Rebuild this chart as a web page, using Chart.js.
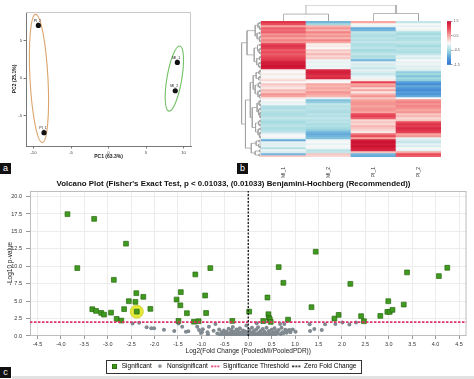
<!DOCTYPE html>
<html><head><meta charset="utf-8">
<script src="https://cdn.jsdelivr.net/npm/chart.js@4.4.1/dist/chart.umd.min.js"></script>
<style>
html,body{margin:0;padding:0;background:#fff;}
#root{position:relative;width:474px;height:379px;overflow:hidden;background:#fff;}
.box{position:absolute;}
.box canvas{display:block;}
.tag{position:absolute;background:#111;color:#fff;font:9px 'Liberation Sans',Arial,sans-serif;line-height:11px;text-align:center;width:11px;height:11px;}
#bottomline{position:absolute;left:12px;top:376px;width:462px;height:3px;background:#e2e2e2;}
</style></head><body>
<div id="root">
  <div class="box" style="left:0;top:0;width:237px;height:170px"><canvas id="pca"></canvas></div>
  <div class="box" style="left:237px;top:0;width:237px;height:178px"><canvas id="heat"></canvas></div>
  <div class="box" style="left:261px;top:0;width:180px;height:21px"><canvas id="colDendro"></canvas></div>
  <div class="box" style="left:241px;top:21px;width:20px;height:136px"><canvas id="rowDendro"></canvas></div>
  <div class="box" style="left:446px;top:18px;width:20px;height:50px"><canvas id="cbar"></canvas></div>
  <div class="box" style="left:0;top:170px;width:474px;height:215px"><canvas id="volc"></canvas></div>
  <div id="bottomline"></div>
  <div class="tag" style="left:0;top:163px">a</div>
  <div class="tag" style="left:237px;top:163px">b</div>
  <div class="tag" style="left:0;top:367px">c</div>
</div>
<script>
// ================= DATA =================
// Panel a: PCA scores
const pcaSamples = ['PI_2', 'PI_1', 'MI_1', 'MI_2'];
const pcaPC1 = [-9.35, -8.6, 9.18, 8.9];
const pcaPC2 = [7.05, -7.32, 2.1, -1.7];

// Panel b: heatmap (scaled abundance), rows top to bottom
const heatSamples = ['MI_1', 'MI_2', 'PI_1', 'PI_2'];
const heatMI1 = [1.2,1.0,0.5,0.9,0.8,0.9,0.6,0.7,0.5,0.7,
 0.6,1.1,1.2,1.1,0.9,1.0,0.9,1.0,1.1,1.2,
 1.4,1.4,1.5,1.4,0.05,0.0,0.1,0.0,0.05,0.2,
 0.0,0.3,0.2,0.1,0.4,0.3,0.6,0.5,0.1,0.0,
 -0.1,-0.05,-0.4,-0.45,-0.35,-0.4,-0.45,-0.4,-0.3,-0.4,
 -0.5,-0.4,-0.35,-0.45,-0.4,-0.3,-0.05,0.0,-0.1,-0.9,
 -0.1,-0.15,-0.1,-0.4,-0.05,-0.2,-0.8,0.3];
const heatMI2 = [-0.8,-0.5,0.4,0.6,0.4,0.7,0.5,0.6,0.4,0.7,
 0.5,0.05,0.1,0.0,0.3,0.2,0.4,0.2,0.3,-0.05,
 -0.1,-0.05,-0.1,-0.05,1.3,1.4,1.3,1.2,1.3,0.05,
 0.0,0.5,0.4,0.5,0.4,0.6,0.5,0.4,-0.1,-0.7,
 -0.6,-0.3,-0.4,-0.35,-0.4,-0.45,-0.35,-0.4,-0.3,-0.4,
 -0.35,-0.45,-0.4,-0.5,-0.6,-0.8,-0.9,-0.8,-0.7,-0.05,
 0.0,-0.1,0.0,-0.05,-0.35,-0.3,0.3,0.2];
const heatPI1 = [0.5,0.0,-0.1,-0.9,-0.8,-0.3,-0.4,-0.45,-0.35,-0.4,
 -0.3,-0.45,-0.4,-0.35,-0.5,-0.4,-0.3,-0.45,-0.4,-0.8,
 -0.1,-0.2,-0.15,-0.3,-0.1,-0.2,-0.3,-0.1,-0.05,0.1,
 1.1,0.5,0.6,0.2,0.5,0.1,0.4,0.6,0.3,0.5,
 0.6,0.6,0.5,0.6,0.6,0.5,1.0,1.1,0.9,0.2,
 0.3,0.2,0.4,0.3,0.2,0.1,0.8,1.0,0.5,1.4,
 1.5,1.4,1.5,1.4,1.3,0.3,-0.8,-0.9];
const heatPI2 = [-0.3,0.0,-0.1,0.0,-0.1,-0.4,-0.5,-0.35,-0.45,-0.4,
 -0.3,-0.4,-0.5,-0.35,-0.4,-0.45,-0.3,-0.1,-0.2,0.0,
 -0.1,-0.05,-0.15,-0.1,-0.2,-0.6,-0.5,-0.7,-0.5,-0.6,
 -1.0,-1.2,-0.9,-1.1,-1.2,-1.0,-1.1,-0.9,0.0,0.6,
 0.7,0.6,0.7,0.6,0.5,0.6,0.3,0.4,0.2,0.3,
 1.0,1.2,1.1,1.3,1.2,1.1,0.5,0.6,-0.1,-0.2,
 -0.3,-0.1,-0.2,0.0,-0.1,0.5,1.0,0.9];
const colorbarMin = -1.5, colorbarMax = 1.5;
// dendrograms: [height, left, right], leaves = index
const colTree = [1.0, [0.43, 0, 1], [0.47, 2, 3]];
const rowTree = [1.0,
  [0.72,
    [0.3,[0.15,[0.06,0,1],[0.08,2,[0.04,3,4]]],[0.2,[0.07,5,6],[0.1,[0.05,7,8],[0.06,9,10]]]],
    [0.35,[0.18,[0.06,11,12],[0.1,[0.04,13,14],[0.05,15,16]]],[0.22,[0.08,[0.04,17,18],19],[0.12,[0.05,20,21],[0.06,22,23]]]]
  ],
  [0.8,
    [0.55,
      [0.4,[0.25,[0.1,[0.05,24,25],26],[0.12,[0.06,27,28],29]],[0.3,[0.14,[0.05,30,31],[0.07,32,33]],[0.16,[0.06,34,35],[0.08,[0.04,36,37],38]]]],
      [0.45,[0.2,[0.1,[0.04,39,40],[0.05,41,42]],[0.12,[0.05,43,44],[0.06,[0.03,45,46],[0.04,47,48]]]],[0.28,[0.12,[0.05,49,50],[0.06,51,52]],[0.15,[0.06,53,54],[0.08,[0.04,55,56],[0.05,57,58]]]]]
    ],
    [0.5,[0.25,[0.1,59,60],[0.12,61,[0.05,62,63]]],[0.3,[0.08,64,65],[0.1,66,67]]]
  ]
];

// Panel c: volcano
const sigLog2FC = [-3.86,-3.29,-2.61,-3.65,-2.87,-2.39,-2.24,-2.55,-2.41,-2.38,-2.09,-2.65,-3.33,-3.25,-3.14,-3.08,-2.93,-2.81,-2.71,
  -1.53,-1.44,-1.45,-1.31,-1.49,-1.13,-0.81,-0.92,-0.90,-1.16,-1.06,-0.34,
  0.02,1.44,0.65,0.75,0.41,1.35,0.43,0.44,0.46,0.48,0.32,0.85,2.18,1.84,1.93,2.41,2.47,2.82,2.99,2.97,3.02,3.08,3.32,3.39,4.07,4.25];
const sigNegLog10P = [17.47,16.8,13.24,9.74,8.06,6.14,5.62,4.99,4.9,3.5,3.89,3.85,3.84,3.6,3.31,3.07,3.35,2.45,2.21,
  5.23,6.29,4.4,3.27,2.16,8.83,9.74,5.81,3.3,2.05,2.12,2.16,
  3.5,12.09,9.88,7.63,5.52,4.13,3.12,2.6,2.4,2.02,2.15,2.35,7.48,2.5,3.03,2.84,2.12,2.88,4.99,3.46,3.46,3.75,4.51,9.12,8.59,9.79];
const nsLog2FC = [-2.47,-2.33,-2.17,-2.07,-2.01,-1.80,-1.58,-1.49,-1.41,-1.33,-1.28,-1.09,-1.05,-0.99,-1.01,-0.97,-0.87,-0.84,-0.74,-0.70,-0.86,
  -0.66,-0.62,-0.6,-0.57,-0.55,-0.52,-0.5,-0.48,-0.46,-0.44,-0.42,-0.40,-0.38,-0.36,-0.34,-0.33,-0.31,-0.29,-0.27,-0.25,-0.23,-0.22,-0.20,-0.18,-0.16,-0.15,-0.13,-0.11,-0.10,-0.08,-0.06,-0.04,-0.03,-0.02,
  0.0,0.02,0.03,0.05,0.07,0.08,0.10,0.12,0.13,0.15,0.17,0.18,0.20,0.21,0.23,0.25,0.27,0.29,0.31,0.33,0.35,0.37,0.39,0.41,0.44,0.46,0.48,0.50,0.52,0.54,0.56,0.58,0.60,0.62,0.65,0.68,0.69,0.71,0.73,0.75,0.77,0.79,0.81,0.82,0.85,0.88,0.90,0.95,1.01,
  1.31,1.32,1.41,1.57,1.64,1.86,2.01,2.16,2.30];
const nsNegLog10P = [1.80,1.90,1.27,1.10,1.10,0.88,0.72,1.80,1.33,0.62,0.67,1.33,0.86,0.55,0.43,0.96,0.53,1.33,0.76,1.72,0.24,
  0.35,0.93,0.15,0.55,0.22,0.78,0.40,0.10,0.62,0.30,1.05,0.18,0.48,0.85,0.25,1.29,0.60,0.12,0.40,0.95,0.20,0.70,0.35,1.10,0.08,0.52,0.28,0.80,0.15,0.45,0.65,1.50,0.22,0.38,
  0.05,0.90,0.30,0.55,0.12,1.20,0.42,0.70,0.18,0.35,0.95,1.82,0.25,1.25,0.50,0.10,0.75,0.32,1.00,0.15,0.60,0.38,1.20,0.22,0.70,0.45,0.12,0.90,0.30,0.55,1.10,0.20,0.68,0.40,0.85,1.72,0.28,1.19,0.55,0.38,1.72,0.90,0.62,0.47,0.80,0.86,0.55,0.95,0.62,
  1.68,0.72,1.00,0.86,1.68,1.72,1.93,1.66,1.93];
const highlightedIndex = 9;          // index into the significant arrays
const pThreshold = 0.01033;
const legendNames = ['Significant', 'Nonsignificant', 'Significance Threshold', 'Zero Fold Change'];

// ================= SETUP =================
const FONT = "'Liberation Sans', Arial, Helvetica, sans-serif";
Chart.defaults.font.family = FONT;
Chart.defaults.animation = false;
Chart.defaults.responsive = true;
Chart.defaults.maintainAspectRatio = false;
Chart.defaults.plugins.legend.display = false;
Chart.defaults.plugins.tooltip.enabled = false;

// ---------- Panel a ----------
const ellipses = [
  {cx: -9.27, cy: -0.05, rx: 1.2, ry: 8.6, angle: -3, color: '#dba46e'},
  {cx: 8.78, cy: -0.07, rx: 0.99, ry: 4.42, angle: 9.6, color: '#74c266'}
];
const pcaDecor = {
  id: 'pcaDecor',
  beforeDatasetsDraw(chart) {
    const {ctx, chartArea: a, scales: {x, y}} = chart;
    ctx.save();
    ctx.strokeStyle = '#c8c8c8'; ctx.lineWidth = 1;
    ctx.beginPath(); ctx.moveTo(a.left, a.top + 0.5); ctx.lineTo(a.right - 0.5, a.top + 0.5); ctx.lineTo(a.right - 0.5, a.bottom); ctx.stroke();
    ellipses.forEach(e => {
      const cx = x.getPixelForValue(e.cx), cy = y.getPixelForValue(e.cy);
      const rx = Math.abs(x.getPixelForValue(e.cx + e.rx) - cx);
      const ry = Math.abs(y.getPixelForValue(e.cy + e.ry) - cy);
      ctx.strokeStyle = e.color; ctx.lineWidth = 1.1;
      ctx.beginPath(); ctx.ellipse(cx, cy, rx, ry, e.angle * Math.PI / 180, 0, Math.PI * 2); ctx.stroke();
    });
    ctx.restore();
  },
  afterDatasetsDraw(chart) {
    const {ctx} = chart;
    const meta = chart.getDatasetMeta(0);
    ctx.save();
    ctx.font = '3.6px ' + FONT; ctx.fillStyle = '#222'; ctx.textAlign = 'center'; ctx.textBaseline = 'bottom';
    meta.data.forEach((el, i) => ctx.fillText(pcaSamples[i], el.x - 1, el.y - 2.5));
    ctx.restore();
  }
};
new Chart(document.getElementById('pca'), {
  type: 'scatter',
  data: {datasets: [{data: pcaPC1.map((v, i) => ({x: v, y: pcaPC2[i]})), pointRadius: 2.6, backgroundColor: '#111', borderWidth: 0}]},
  options: {
    layout: {padding: {left: 0, top: 12, right: 46, bottom: 0}},
    scales: {
      x: {type: 'linear', min: -11, max: 11,
        ticks: {stepSize: 5, includeBounds: false, font: {size: 4.2}, color: '#444', padding: 1.5, maxRotation: 0},
        grid: {drawOnChartArea: false, tickLength: 2.5, color: '#777'}, border: {color: '#777'},
        title: {display: true, text: 'PC1 (63.3%)', font: {size: 5, weight: 'bold'}, color: '#222', padding: {top: 0, bottom: 10}},
        afterFit(s) { s.height = 24; }},
      y: {type: 'linear', min: -9.1, max: 8.85,
        ticks: {stepSize: 5, includeBounds: false, font: {size: 4.2}, color: '#444', padding: 1.5},
        grid: {drawOnChartArea: false, tickLength: 2.5, color: '#777'}, border: {color: '#777'},
        title: {display: true, text: 'PC2 (25.1%)', font: {size: 5, weight: 'bold'}, color: '#222', padding: {top: 12, bottom: 0}},
        afterFit(s) { s.width = 26; }}
    }
  },
  plugins: [pcaDecor]
});

// ---------- Panel b ----------
const CMAP = [[-1.5,[52,116,208]],[-1.0,[84,158,218]],[-0.5,[162,218,224]],[0,[248,248,248]],[0.5,[247,166,160]],[1.0,[234,76,92]],[1.5,[204,18,50]]];
function heatColor(v) {
  v = Math.max(-1.5, Math.min(1.5, v));
  for (let k = 0; k < CMAP.length - 1; k++) {
    const [a, ca] = CMAP[k], [b, cb] = CMAP[k + 1];
    if (v <= b) { const t = (v - a) / (b - a); return 'rgb(' + ca.map((c, j) => Math.round(c + (cb[j] - c) * t)).join(',') + ')'; }
  }
  return 'rgb(204,18,50)';
}
const heatValues = [heatMI1, heatMI2, heatPI1, heatPI2];
const nRows = heatMI1.length;
new Chart(document.getElementById('heat'), {
  type: 'bar',
  data: {
    labels: heatSamples,
    datasets: heatMI1.map((_, r) => ({
      data: heatValues.map(() => [r, r + 1]),
      backgroundColor: ctx => heatColor(heatValues[ctx.dataIndex][r]),
      grouped: false, barPercentage: 1, categoryPercentage: 1, borderWidth: 0
    }))
  },
  options: {
    layout: {padding: {left: 24, right: 33, top: 21, bottom: 0}},
    scales: {
      x: {type: 'category', grid: {display: false}, border: {display: false},
        ticks: {font: {size: 5}, color: '#333', minRotation: 90, maxRotation: 90, padding: 2, autoSkip: false},
        afterFit(s) { s.height = 21; }},
      y: {type: 'linear', min: 0, max: nRows, reverse: true, display: false}
    }
  }
});

function buildLinks(node, leafPos, links) {
  if (typeof node === 'number') return {pos: leafPos(node), h: 0};
  const [h, a, b] = node;
  const la = buildLinks(a, leafPos, links), lb = buildLinks(b, leafPos, links);
  links.push([[la.pos, la.h], [la.pos, h], [lb.pos, h], [lb.pos, lb.h]]);
  return {pos: (la.pos + lb.pos) / 2, h};
}
const dendroStyle = {showLine: true, pointRadius: 0, borderColor: '#a2a2a2', borderWidth: 0.8, fill: false};
const colLinks = []; buildLinks(colTree, i => i, colLinks);
new Chart(document.getElementById('colDendro'), {
  type: 'scatter',
  data: {datasets: colLinks.map(l => Object.assign({data: l.map(p => ({x: p[0], y: p[1]}))}, dendroStyle))},
  options: {layout: {padding: {top: 5, left: 0, right: 0, bottom: 0}},
    scales: {x: {type: 'linear', min: -0.5, max: 3.5, display: false}, y: {type: 'linear', min: 0, max: 1, display: false}}}
});
const rowLinks = []; buildLinks(rowTree, i => i + 0.5, rowLinks);
new Chart(document.getElementById('rowDendro'), {
  type: 'scatter',
  data: {datasets: rowLinks.map(l => Object.assign({data: l.map(p => ({x: p[1], y: p[0]}))}, dendroStyle))},
  options: {layout: {padding: 0},
    scales: {x: {type: 'linear', min: 0, max: 1.03, reverse: true, display: false}, y: {type: 'linear', min: 0, max: nRows, reverse: true, display: false}}}
});

const cbarFill = {
  id: 'cbarFill',
  beforeDatasetsDraw(chart) {
    const {ctx, chartArea: a, scales: {y}} = chart;
    const g = ctx.createLinearGradient(0, y.getPixelForValue(colorbarMax), 0, y.getPixelForValue(colorbarMin));
    CMAP.forEach(([v]) => g.addColorStop((colorbarMax - v) / (colorbarMax - colorbarMin), heatColor(v)));
    ctx.save(); ctx.fillStyle = g; ctx.fillRect(a.left, a.top, a.right - a.left, a.bottom - a.top); ctx.restore();
  }
};
new Chart(document.getElementById('cbar'), {
  type: 'bar',
  data: {labels: [''], datasets: []},
  options: {
    layout: {padding: {left: 1, right: 0, top: 3, bottom: 2}},
    scales: {
      x: {display: false},
      y: {type: 'linear', position: 'right', min: colorbarMin, max: colorbarMax,
        ticks: {stepSize: 0.5, font: {size: 3.6}, color: '#555', padding: 1},
        grid: {drawOnChartArea: false, tickLength: 1.5, color: '#999'}, border: {display: false},
        afterFit(s) { s.width = 15; }}
    }
  },
  plugins: [cbarFill]
});

// ---------- Panel c ----------
const sigThreshold = -Math.log10(pThreshold);
const xLim = 4.66, yMax = 20.8;
function icon(w, h, draw) { const c = document.createElement('canvas'); c.width = w; c.height = h; draw(c.getContext('2d')); return c; }
const legendIcons = [
  icon(5, 5, g => { g.fillStyle = '#3f9a1f'; g.fillRect(0, 0, 5, 5); g.strokeStyle = '#2a6a10'; g.lineWidth = 0.8; g.strokeRect(0.4, 0.4, 4.2, 4.2); }),
  icon(4, 4, g => { g.fillStyle = '#808a90'; g.beginPath(); g.arc(2, 2, 1.8, 0, Math.PI * 2); g.fill(); }),
  icon(9, 3, g => { g.strokeStyle = '#e0306a'; g.lineWidth = 1.6; g.setLineDash([2, 1]); g.beginPath(); g.moveTo(0, 1.5); g.lineTo(9, 1.5); g.stroke(); }),
  icon(9, 3, g => { g.strokeStyle = '#111'; g.lineWidth = 1.3; g.setLineDash([2, 1]); g.beginPath(); g.moveTo(0, 1.5); g.lineTo(9, 1.5); g.stroke(); })
];
const volcDecor = {
  id: 'volcDecor',
  beforeDatasetsDraw(chart) {
    const {ctx, chartArea: a} = chart;
    ctx.save(); ctx.strokeStyle = '#bdbdbd'; ctx.lineWidth = 1;
    ctx.strokeRect(a.left + 0.5, a.top + 0.5, a.right - a.left - 1, a.bottom - a.top - 1); ctx.restore();
  },
  afterDraw(chart) {
    const boxes = chart.legend && chart.legend.legendHitBoxes;
    if (!boxes || !boxes.length) return;
    const l = Math.min(...boxes.map(b => b.left)) - 5, r = Math.max(...boxes.map(b => b.left + b.width)) + 4;
    const t = Math.min(...boxes.map(b => b.top)) - 3, bt = Math.max(...boxes.map(b => b.top + b.height)) + 3;
    const ctx = chart.ctx; ctx.save(); ctx.strokeStyle = '#333'; ctx.lineWidth = 1;
    ctx.strokeRect(Math.round(l) + 0.5, Math.round(t) + 0.5, Math.round(r - l), Math.round(bt - t)); ctx.restore();
  }
};
new Chart(document.getElementById('volc'), {
  type: 'scatter',
  data: {datasets: [
    {label: 'Zero Fold Change', type: 'line', data: [{x: 0, y: 0}, {x: 0, y: yMax}], borderColor: '#111', borderWidth: 1.3, borderDash: [2, 1.5], pointRadius: 0, order: 1},
    {label: 'Significance Threshold', type: 'line', data: [{x: -xLim, y: sigThreshold}, {x: xLim, y: sigThreshold}], borderColor: '#e0306a', borderWidth: 1.6, borderDash: [2.5, 1.5], pointRadius: 0, order: 2},
    {label: 'Significant', data: sigLog2FC.map((v, i) => ({x: v, y: sigNegLog10P[i]})), pointStyle: 'rect', pointRadius: 3.4, backgroundColor: '#3f9a1f', borderColor: '#2a6a10', borderWidth: 0.7, order: 3},
    {label: 'Nonsignificant', data: nsLog2FC.map((v, i) => ({x: v, y: nsNegLog10P[i]})), pointStyle: 'circle', pointRadius: 2, backgroundColor: '#808a90', borderWidth: 0, order: 4},
    {label: 'highlight', data: [{x: sigLog2FC[highlightedIndex], y: sigNegLog10P[highlightedIndex]}], pointRadius: 6.5, backgroundColor: '#e4ea3a', borderColor: '#cfd42a', borderWidth: 1, order: 5}
  ]},
  options: {
    layout: {padding: {left: 0, right: 7, top: 0, bottom: 5.5}},
    plugins: {
      title: {display: true, text: "Volcano Plot (Fisher's Exact Test, p < 0.01033, (0.01033) Benjamini-Hochberg (Recommended))",
        font: {size: 7.9, weight: 'bold'}, color: '#111', padding: {top: 8.6, bottom: 2.9}},
      legend: {display: true, position: 'bottom',
        labels: {usePointStyle: true, pointStyleWidth: 8, font: {size: 6.5}, color: '#222', padding: 4,
          generateLabels: () => legendNames.map((n, i) => ({text: n, pointStyle: legendIcons[i], fillStyle: '#fff', strokeStyle: '#fff', lineWidth: 0, hidden: false}))}}
    },
    scales: {
      x: {type: 'linear', min: -xLim, max: xLim,
        ticks: {stepSize: 0.5, includeBounds: false, autoSkip: false, maxRotation: 0, font: {size: 5.5}, color: '#333', padding: 2, callback: v => v.toFixed(1)},
        grid: {color: '#ececec', tickColor: '#999', tickLength: 3}, border: {display: false},
        title: {display: true, text: 'Log2(Fold Change (PooledMI/PooledPDR))', font: {size: 6.5}, color: '#222', padding: {top: 0, bottom: 4.1}},
        afterFit(s) { s.height = 23; }},
      y: {type: 'linear', min: 0, max: yMax,
        ticks: {stepSize: 2.5, includeBounds: false, font: {size: 5.5}, color: '#333', padding: 4, callback: v => v.toFixed(1)},
        grid: {color: '#ececec', tickColor: '#999', tickLength: 4}, border: {display: false},
        title: {display: true, text: '-Log10 p-value', font: {size: 6.5}, color: '#222', padding: {top: 6, bottom: 0}},
        afterFit(s) { s.width = 30; }}
    }
  },
  plugins: [volcDecor]
});
</script>
</body></html>
